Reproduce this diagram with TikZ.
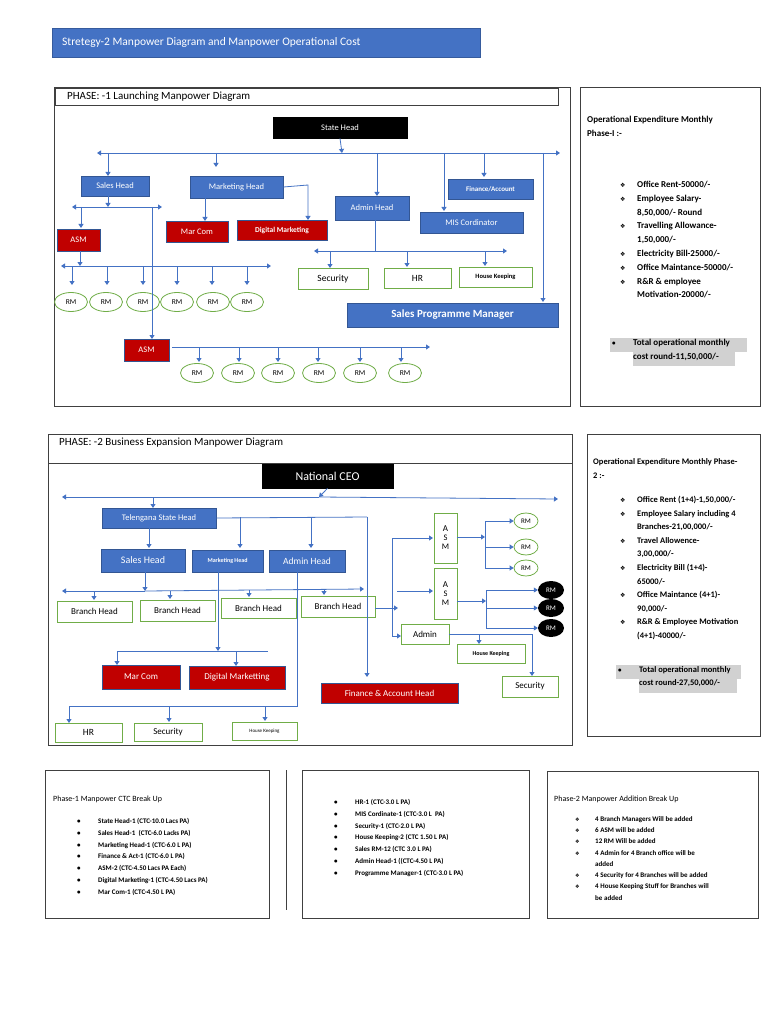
\documentclass[tikz,border=0pt]{standalone}
\usepackage{fontspec}
\setmainfont{Carlito}
\newfontfamily\dv{DejaVu Sans}
\usetikzlibrary{arrows.meta,shapes.geometric,fit}
\definecolor{myblue}{HTML}{4472C4}
\definecolor{myred}{HTML}{C00000}
\definecolor{mygreen}{HTML}{70AD47}
\newcommand{\BX}[5]{\node[#2,fit={(#3)(#4)}] (#1) {};\node[#2,draw=none,fill=none,inner sep=0] at (#1.center) {#5};}
\newcommand{\dia}{\makebox[17pt][l]{\dv\fontsize{6}{6}\selectfont\char"2756}}
\newcommand{\ind}{\hspace*{17pt}}
\newcommand{\bul}{\makebox[21pt][l]{\fontsize{7}{7}\selectfont\textbullet}}
\newcommand{\dib}{\makebox[20pt][l]{\dv\fontsize{5}{5}\selectfont\char"2756}}
\begin{document}
\begin{tikzpicture}[x=1pt,y=-1pt,
 bx/.style={draw, inner sep=0, line width=0.8pt, align=center, font=\fontsize{8.5}{9}\selectfont},
 bluebox/.style={bx, fill=myblue, draw=myblue!75!black, text=white},
 redbox/.style={bx, fill=myred, draw=myblue!75!black, text=white},
 greenbox/.style={bx, draw=mygreen, fill=white, text=black},
 blackbox/.style={bx, fill=black, text=white},
 rm/.style={ellipse, draw=mygreen, line width=0.8pt, minimum width=33pt, minimum height=19pt, inner sep=0, font=\fontsize{7.5}{8}\selectfont},
 brm/.style={ellipse, fill=black, text=white, minimum width=26pt, minimum height=18pt, inner sep=0, font=\fontsize{7}{7}\selectfont},
 ar/.style={myblue, line width=0.8pt, -{Triangle[length=4pt,width=5pt]}},
 ln/.style={myblue, line width=0.8pt},
 frame/.style={draw=black!75, line width=0.8pt},
 ptxt/.style={anchor=north west, align=left, inner sep=0, font=\bfseries\fontsize{9}{13.8}\selectfont},
 ltxt/.style={anchor=north west, align=left, inner sep=0, font=\bfseries\fontsize{7}{11.8}\selectfont}]
\useasboundingbox (0,0) rectangle (768,1024);
\fill[white] (0,0) rectangle (768,1024);
% title
\node[fill=myblue, draw=myblue!80!black, minimum width=428pt, minimum height=29pt, anchor=north west, inner sep=0] (title) at (52,28) {};
\node[anchor=west, text=white, font=\fontsize{11.5}{12}\selectfont, inner sep=0] (titletxt) at (62,42.5) {Stretegy-2 Manpower Diagram and Manpower Operational Cost};
% ================= PHASE 1 =================
\draw[frame] (54,87) rectangle (570,406);
\draw[frame] (55,88) rectangle (558,105);
\node[anchor=west, font=\fontsize{11}{12}\selectfont, inner sep=0] (p1t) at (67,96.5) {PHASE: -1 Launching Manpower Diagram};
\draw[frame] (580,87) rectangle (760,406);
\BX{st}{blackbox}{273,117}{407,138}{State Head}
\BX{sh}{bluebox}{81,176}{149,196}{Sales Head}
\BX{mh}{bluebox}{190,176}{283,198}{Marketing Head}
\BX{mc}{redbox}{166,221}{228,242}{Mar Com}
\BX{dm}{redbox}{237,220}{327,240}{\bfseries\fontsize{7.5}{8}\selectfont Digital Marketing}
\BX{ah}{bluebox}{335,196}{409,220}{Admin Head}
\BX{mis}{bluebox}{420,212}{523,233}{MIS Cordinator}
\BX{fa}{bluebox}{448,179}{533,199}{\bfseries\fontsize{7}{7}\selectfont Finance/Account}
\BX{spm}{bluebox}{347,303}{558,327}{\bfseries\fontsize{11}{12}\selectfont Sales Programme Manager}
\BX{sec1}{greenbox}{298,268}{368,289}{\fontsize{9.5}{10}\selectfont Security}
\BX{hr1}{greenbox}{384,268}{451,288}{\fontsize{9.5}{10}\selectfont HR}
\BX{hk1}{greenbox}{459,267}{532,287}{\bfseries\fontsize{6.5}{7}\selectfont House Keeping}
\BX{asm1}{redbox}{57,229}{100,251}{ASM}
\BX{asm2}{redbox}{124,339}{169,361}{ASM}
\foreach \i/\x in {1/71,2/106,3/143,4/177,5/213,6/247}
  \node[rm] (ra\i) at (\x,302) {RM};
\foreach \i/\x in {1/197,2/238,3/278,4/319,5/360,6/405}
  \node[rm] (rb\i) at (\x,373) {RM};
% connectors phase 1
\coordinate (b1) at (342,153);
\draw[ar] (st.south) -- (b1);
\draw[ar] (b1) -- (97,153);
\draw[ar] (b1) -- (560,153);
\draw[ar] (108,153) -- (108,176);
\draw[ar] (216,153) -- (216,167);
\draw[ar] (377,153) -- (377,196);
\draw[ar] (444,153) -- (444,211);
\draw[ar] (484,153) -- (484,177);
\draw[ar] (543,153) -- (543,302);
\draw[ar] (205,198) -- (205,221);
\draw[ar] (mh.east) -- (308,185) -- (308,220);
% admin bus
\draw[ln] (375,220) -- (375,251);
\draw[ar] (375,251) -- (314,251);
\draw[ar] (375,251) -- (507,251);
\draw[ar] (330,251) -- (330,268);
\draw[ar] (407,251) -- (407,267);
\draw[ar] (485,251) -- (485,266);
% sales bus
\draw[ar] (108,196) -- (108,207);
\draw[ar] (108,207) -- (72,207);
\draw[ar] (108,207) -- (162,207);
\draw[ar] (81,207) -- (81,228);
\draw[ar] (152,207) -- (152,339);
% asm1 bus
\draw[ar] (80,251) -- (80,266);
\draw[ar] (80,266) -- (61,266);
\draw[ar] (80,266) -- (271,266);
\foreach \x in {72,107,143,177,212,247} \draw[ar] (\x,266) -- (\x,285);
% asm2 bus
\draw[ar] (172,347) -- (430,347);
\foreach \x in {199,239,278,318,360,401} \draw[ar] (\x,347) -- (\x,362);
% panel 1 text
\node[ptxt, font=\bfseries\fontsize{9}{14}\selectfont] (p1h) at (587,116) {Operational Expenditure Monthly\\Phase-I :-};
\node[ptxt] (p1l) at (620,181) {\dia Office Rent-50000/-\\ \dia Employee Salary-\\ \ind 8,50,000/- Round\\ \dia Travelling Allowance-\\ \ind 1,50,000/-\\ \dia Electricity Bill-25000/-\\ \dia Office Maintance-50000/-\\ \dia R\&R \& employee\\ \ind Motivation-20000/-};
\fill[black!18] (610,338) rectangle (747,352);
\fill[black!18] (633,352) rectangle (735,366);
\node[ptxt] (p1tot) at (612,339) {\bul Total operational monthly\\ \hspace*{21pt}cost round-11,50,000/-};
% ================= PHASE 2 =================
\draw[frame] (48,434) rectangle (572,745);
\draw[frame] (48,463) -- (572,463);
\node[anchor=west, font=\fontsize{11}{12}\selectfont, inner sep=0] (p2t) at (59,443) {PHASE: -2 Business Expansion Manpower Diagram};
\draw[frame] (587,434) rectangle (760,736);
\BX{ceo}{blackbox}{262,464}{393,488}{\fontsize{12}{13}\selectfont National CEO}
\BX{tsh}{bluebox}{102,508}{216,528}{Telengana State Head}
\BX{sh2}{bluebox}{101,549}{185,572}{\fontsize{10}{11}\selectfont Sales Head}
\BX{mh2}{bluebox}{192,550}{263,572}{\bfseries\fontsize{6}{6}\selectfont Marketing Head}
\BX{ah2}{bluebox}{269,550}{345,572}{\fontsize{9.5}{10}\selectfont Admin Head}
\BX{bh1}{greenbox}{57,601}{132,622}{\fontsize{9}{10}\selectfont Branch Head}
\BX{bh2}{greenbox}{140,600}{215,621}{\fontsize{9}{10}\selectfont Branch Head}
\BX{bh3}{greenbox}{221,598}{296,618}{\fontsize{9}{10}\selectfont Branch Head}
\BX{bh4}{greenbox}{301,596}{375,617}{\fontsize{9}{10}\selectfont Branch Head}
\BX{mc2}{redbox}{102,665}{180,689}{\fontsize{9}{10}\selectfont Mar Com}
\BX{dm2}{redbox}{189,666}{285,689}{\fontsize{9}{10}\selectfont Digital Marketting}
\BX{hr2}{greenbox}{55,723}{122,742}{\fontsize{9.5}{10}\selectfont HR}
\BX{sec2}{greenbox}{134,723}{202,741}{\fontsize{9}{10}\selectfont Security}
\BX{hk2}{greenbox}{232,722}{297,740}{\fontsize{5}{5}\selectfont House Keeping}
\BX{fah}{redbox}{321,683}{458,703}{\fontsize{9}{10}\selectfont Finance \& Account Head}
\BX{asma}{greenbox}{434,513}{457,563}{\fontsize{9}{14}\selectfont A\\S\\M}
\BX{asmb}{greenbox}{434,568}{457,619}{\fontsize{9}{14}\selectfont A\\S\\M}
\BX{adm}{greenbox}{401,624}{449,644}{\fontsize{9}{10}\selectfont Admin}
\BX{hk3}{greenbox}{457,644}{525,663}{\bfseries\fontsize{6}{6}\selectfont House Keeping}
\BX{sec3}{greenbox}{502,676}{558,697}{\fontsize{9}{10}\selectfont Security}
\foreach \i/\y in {1/521,2/547,3/568} \node[rm, minimum width=24pt, minimum height=16pt, font=\fontsize{7}{7}\selectfont] (rc\i) at (526,\y) {RM};
\foreach \i/\y in {1/590,2/608,3/628} \node[brm] (rd\i) at (551,\y) {RM};
% connectors phase 2
\coordinate (b2) at (319,497);
\draw[ar] (ceo.south) -- (b2);
\draw[ar] (b2) -- (62,497);
\draw[ar] (b2) -- (558,499);
\draw[ar] (153,497) -- (153,508);
\draw[ln] (tsh.east) -- (367,517);
\draw[ar] (367,517) -- (367,677);
\draw[ar] (240,517) -- (240,548);
\draw[ar] (311,517) -- (311,548);
\draw[ar] (149,528) -- (149,548);
% branch bus
\draw[ar] (145,572) -- (145,591);
\draw[ar] (145,591) -- (62,591);
\draw[ar] (145,591) -- (364,589);
\draw[ar] (94,591) -- (94,600);
\draw[ar] (170,591) -- (170,599);
\draw[ar] (249,590) -- (249,597);
\draw[ar] (324,589) -- (324,595);
% marketing
\draw[ar] (218,572) -- (218,651);
\draw[ln] (117,651) -- (268,651);
\draw[ar] (117,651) -- (117,665);
\draw[ar] (236,651) -- (236,666);
% admin head
\draw[ln] (297,572) -- (297,706) -- (69,706);
\draw[ar] (69,706) -- (69,723);
\draw[ar] (169,706) -- (169,722);
\draw[ar] (265,706) -- (265,721);
% right cluster
\draw[ar] (375,608) -- (398,608);
\draw[ln] (392,538) -- (392,636);
\draw[ar] (392,538) -- (433,538);
\draw[ar] (397,591) -- (433,591);
\draw[ar] (392,636) -- (401,636);
\draw[ar] (457,537) -- (485,537);
\draw[ln] (485,521) -- (485,568);
\foreach \i/\y in {1/521,2/547,3/568} \draw[ar] (485,\y) -- (rc\i.west);
\draw[ar] (457,601) -- (486,601);
\draw[ln] (486,590) -- (486,628);
\foreach \i/\y in {1/590,2/608,3/628} \draw[ar] (486,\y) -- (rd\i.west);
\draw[ln] (449,634) -- (532,634);
\draw[ar] (532,634) -- (532,676);
\draw[ar] (479,634) -- (479,644);
% panel 2 text
\node[ptxt, font=\bfseries\fontsize{8.5}{14}\selectfont] (p2h) at (593,458) {Operational Expenditure Monthly Phase-\\2 :-};
\node[ptxt, font=\bfseries\fontsize{8.5}{13.6}\selectfont] (p2l) at (620,496) {\dia Office Rent (1+4)-1,50,000/-\\ \dia Employee Salary including 4\\ \ind Branches-21,00,000/-\\ \dia Travel Allowence-\\ \ind 3,00,000/-\\ \dia Electricity Bill (1+4)-\\ \ind 65000/-\\ \dia Office Maintance (4+1)-\\ \ind 90,000/-\\ \dia R\&R \& Employee Motivation\\ \ind (4+1)-40000/-};
\fill[black!18] (616,665) rectangle (741,679);
\fill[black!18] (639,679) rectangle (737,693);
\node[ptxt, font=\bfseries\fontsize{8.5}{13.6}\selectfont] (p2tot) at (618,666) {\bul Total operational monthly\\ \hspace*{21pt}cost round-27,50,000/-};
% ================= BOTTOM =================
\draw[frame] (45,770) rectangle (269,918);
\draw[frame] (286,770) -- (286,910);
\draw[frame] (302,770) rectangle (529,918);
\draw[frame] (547,771) rectangle (758,918);
\node[anchor=west, inner sep=0, font=\fontsize{8}{8}\selectfont] (b1t) at (53,799) {Phase-1 Manpower CTC Break Up};
\node[ltxt] (b1l) at (77,818) {\bul State Head-1 (CTC-10.0 Lacs PA)\\ \bul Sales Head-1~ (CTC-6.0 Lacks PA)\\ \bul Marketing Head-1 (CTC-6.0 L PA)\\ \bul Finance \& Act-1 (CTC-6.0 L PA)\\ \bul ASM-2 (CTC-4.50 Lacs PA Each)\\ \bul Digital Marketing-1 (CTC-4.50 Lacs PA)\\ \bul Mar Com-1 (CTC-4.50 L PA)};
\node[ltxt] (b2l) at (334,799) {\bul HR-1 (CTC-3.0 L PA)\\ \bul MIS Cordinate-1 (CTC-3.0 L~ PA)\\ \bul Security-1 (CTC-2.0 L PA)\\ \bul House Keeping-2 (CTC 1.50 L PA)\\ \bul Sales RM-12 (CTC 3.0 L PA)\\ \bul Admin Head-1 ((CTC-4.50 L PA)\\ \bul Programme Manager-1 (CTC-3.0 L PA)};
\node[anchor=west, inner sep=0, font=\fontsize{8}{8}\selectfont] (b3t) at (554,799) {Phase-2 Manpower Addition Break Up};
\node[ltxt, font=\bfseries\fontsize{7}{11.3}\selectfont] (b3l) at (575,816) {\dib 4 Branch Managers Will be added\\ \dib 6 ASM will be added\\ \dib 12 RM Will be added\\ \dib 4 Admin for 4 Branch office will be\\ \hspace*{20pt}added\\ \dib 4 Security for 4 Branches will be added\\ \dib 4 House Keeping Stuff for Branches will\\ \hspace*{20pt}be added};
\end{tikzpicture}
\end{document}
